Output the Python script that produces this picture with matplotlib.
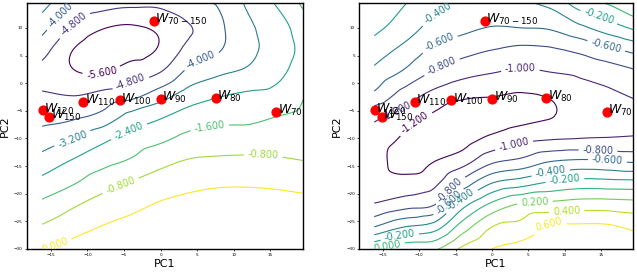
import numpy as np
import matplotlib
matplotlib.use("Agg")
import matplotlib.pyplot as plt
import matplotlib.tri as mtri

pc1_grid = [-16.2, -12, -8, -4, 0, 4, 8, 12, 16, 19.5]
pc2_grid = [-30, -26, -22, -18, -14, -10, -6, -2, 2, 6, 10, 14.5]

# left panel, rows = pc2_grid (bottom to top), cols = pc1_grid
loss_left = [
    [-0.05, 0.27, 0.54, 0.84, 1.10, 1.30, 1.45, 1.45, 1.40, 1.35],
    [-0.72, -0.30, 0.03, 0.30, 0.60, 0.80, 0.95, 0.95, 0.90, 0.80],
    [-1.42, -0.90, -0.49, -0.23, 0.09, 0.28, 0.40, 0.42, 0.35, 0.27],
    [-2.16, -1.68, -1.14, -0.76, -0.44, -0.23, -0.12, -0.11, -0.16, -0.25],
    [-2.91, -2.35, -1.89, -1.52, -1.04, -0.75, -0.68, -0.66, -0.72, -0.80],
    [-3.64, -3.25, -2.61, -2.11, -1.77, -1.38, -1.26, -1.25, -1.12, -1.20],
    [-4.25, -4.14, -3.78, -2.93, -2.50, -2.05, -1.86, -1.80, -1.60, -1.45],
    [-4.74, -4.85, -4.61, -4.32, -3.62, -2.86, -2.50, -2.30, -2.16, -1.65],
    [-5.00, -5.55, -5.65, -5.10, -4.80, -3.77, -3.33, -3.07, -2.60, -2.00],
    [-4.46, -5.60, -6.10, -5.95, -5.50, -4.50, -4.05, -3.40, -2.80, -2.20],
    [-3.74, -4.90, -5.55, -5.70, -5.45, -4.85, -4.15, -3.35, -2.75, -2.00],
    [-2.85, -4.00, -4.40, -4.60, -4.60, -4.10, -3.90, -3.05, -2.30, -1.45],
]

# right panel, same layout
loss_right = [
    [0.00, 0.15, 0.17, 0.45, 0.60, 0.68, 0.80, 0.85, 0.80, 0.75],
    [-0.60, -0.40, -0.30, 0.10, 0.40, 0.46, 0.63, 0.64, 0.63, 0.56],
    [-0.98, -0.88, -0.81, -0.27, 0.05, 0.23, 0.26, 0.30, 0.30, 0.28],
    [-1.10, -1.13, -1.05, -0.73, -0.41, -0.30, -0.18, -0.12, -0.13, -0.14],
    [-1.12, -1.28, -1.21, -1.09, -0.85, -0.76, -0.62, -0.58, -0.60, -0.64],
    [-1.08, -1.23, -1.33, -1.28, -1.16, -1.06, -1.02, -1.00, -0.99, -0.98],
    [-0.95, -1.10, -1.23, -1.32, -1.30, -1.26, -1.21, -1.12, -1.06, -1.04],
    [-0.63, -0.88, -1.05, -1.15, -1.18, -1.21, -1.18, -1.08, -1.03, -0.98],
    [-0.45, -0.63, -0.82, -0.93, -0.99, -1.03, -1.00, -0.96, -0.90, -0.83],
    [-0.30, -0.46, -0.64, -0.73, -0.80, -0.85, -0.83, -0.76, -0.65, -0.55],
    [-0.15, -0.30, -0.47, -0.55, -0.61, -0.60, -0.58, -0.45, -0.30, -0.17],
    [-0.02, -0.19, -0.33, -0.42, -0.47, -0.43, -0.35, -0.10, 0.02, 0.20],
]

levels_left = [-5.6, -4.8, -4.0, -3.2, -2.4, -1.6, -0.8, 0.0]
levels_right = [-1.2, -1.0, -0.8, -0.6, -0.4, -0.2, 0.0, 0.2, 0.4, 0.6]

# projected weights
pc1_pts = [-0.96, 15.8, 7.5, 0.05, -5.6, -10.6, -16.1, -15.2]
pc2_pts = [11.3, -5.2, -2.7, -2.9, -3.1, -3.4, -4.9, -6.1]
pt_labels = ["$W_{70-150}$", "$W_{70}$", "$W_{80}$", "$W_{90}$",
             "$W_{100}$", "$W_{110}$", "$W_{120}$", "$W_{150}$"]

# where the contour labels sit
label_pos_left = [(-13.5, 12), (5.3, 4.7), (-11.8, 10.5), (-4.7, 1.5), (-8.1, 2.4),
                  (-12, -10.3), (-4.5, -8.2), (6.7, -7.9), (-5.5, -18.5), (14, -13.2),
                  (-14.5, -29.3)]
label_pos_right = [(-7.3, 12.3), (8, -15.4), (-6.2, -21.2), (-7.3, 7.5), (15.7, 6.6),
                   (-5.7, -19.4), (15.9, -13.9), (-7, 3.3), (14.6, -12.1), (3.9, 2.7),
                   (3, -10.9), (-13.3, -4.6), (-10.5, -7.3), (14.6, 11.7), (10, -17),
                   (-4.1, -21.5), (-12.8, -27), (-14.5, -28.8), (5.9, -21.2),
                   (10.3, -23.4), (8, -27)]

X, Y = np.meshgrid(pc1_grid, pc2_grid)
triang = mtri.Triangulation(X.ravel(), Y.ravel())
refiner = mtri.UniformTriRefiner(triang)


def draw_panel(ax, loss, levels, label_pos):
    z = np.array(loss).ravel()
    interp = mtri.CubicTriInterpolator(triang, z, kind="geom")
    tri_fine, z_fine = refiner.refine_field(z, triinterpolator=interp, subdiv=3)
    cs = ax.tricontour(tri_fine, z_fine, levels=levels, cmap="viridis", linewidths=0.8)
    ax.clabel(cs, fmt="%1.3f", fontsize=7, manual=label_pos)

    ax.scatter(pc1_pts, pc2_pts, s=40, color="red", zorder=3)
    for x, y, lab in zip(pc1_pts, pc2_pts, pt_labels):
        ax.text(x + 0.2, y - 0.4, lab, fontsize=9, zorder=4)

    ax.set_xlim(-18.3, 19.4)
    ax.set_ylim(-30, 14.5)
    ax.set_xticks([-15, -10, -5, 0, 5, 10, 15])
    ax.set_yticks([-30, -25, -20, -15, -10, -5, 0, 5, 10])
    ax.tick_params(labelsize=3, length=1.5, width=0.5, pad=1.5)
    ax.set_xlabel("PC1", fontsize=8, labelpad=1)
    ax.set_ylabel("PC2", fontsize=8, labelpad=3)
    for sp in ax.spines.values():
        sp.set_linewidth(1)


fig = plt.figure(figsize=(6.37, 2.73), dpi=100)
ax1 = fig.add_axes([0.042, 0.088, 0.433, 0.901])
ax2 = fig.add_axes([0.5636, 0.088, 0.430, 0.901])

draw_panel(ax1, loss_left, levels_left, label_pos_left)
draw_panel(ax2, loss_right, levels_right, label_pos_right)

fig.savefig("out.png", dpi=100)
